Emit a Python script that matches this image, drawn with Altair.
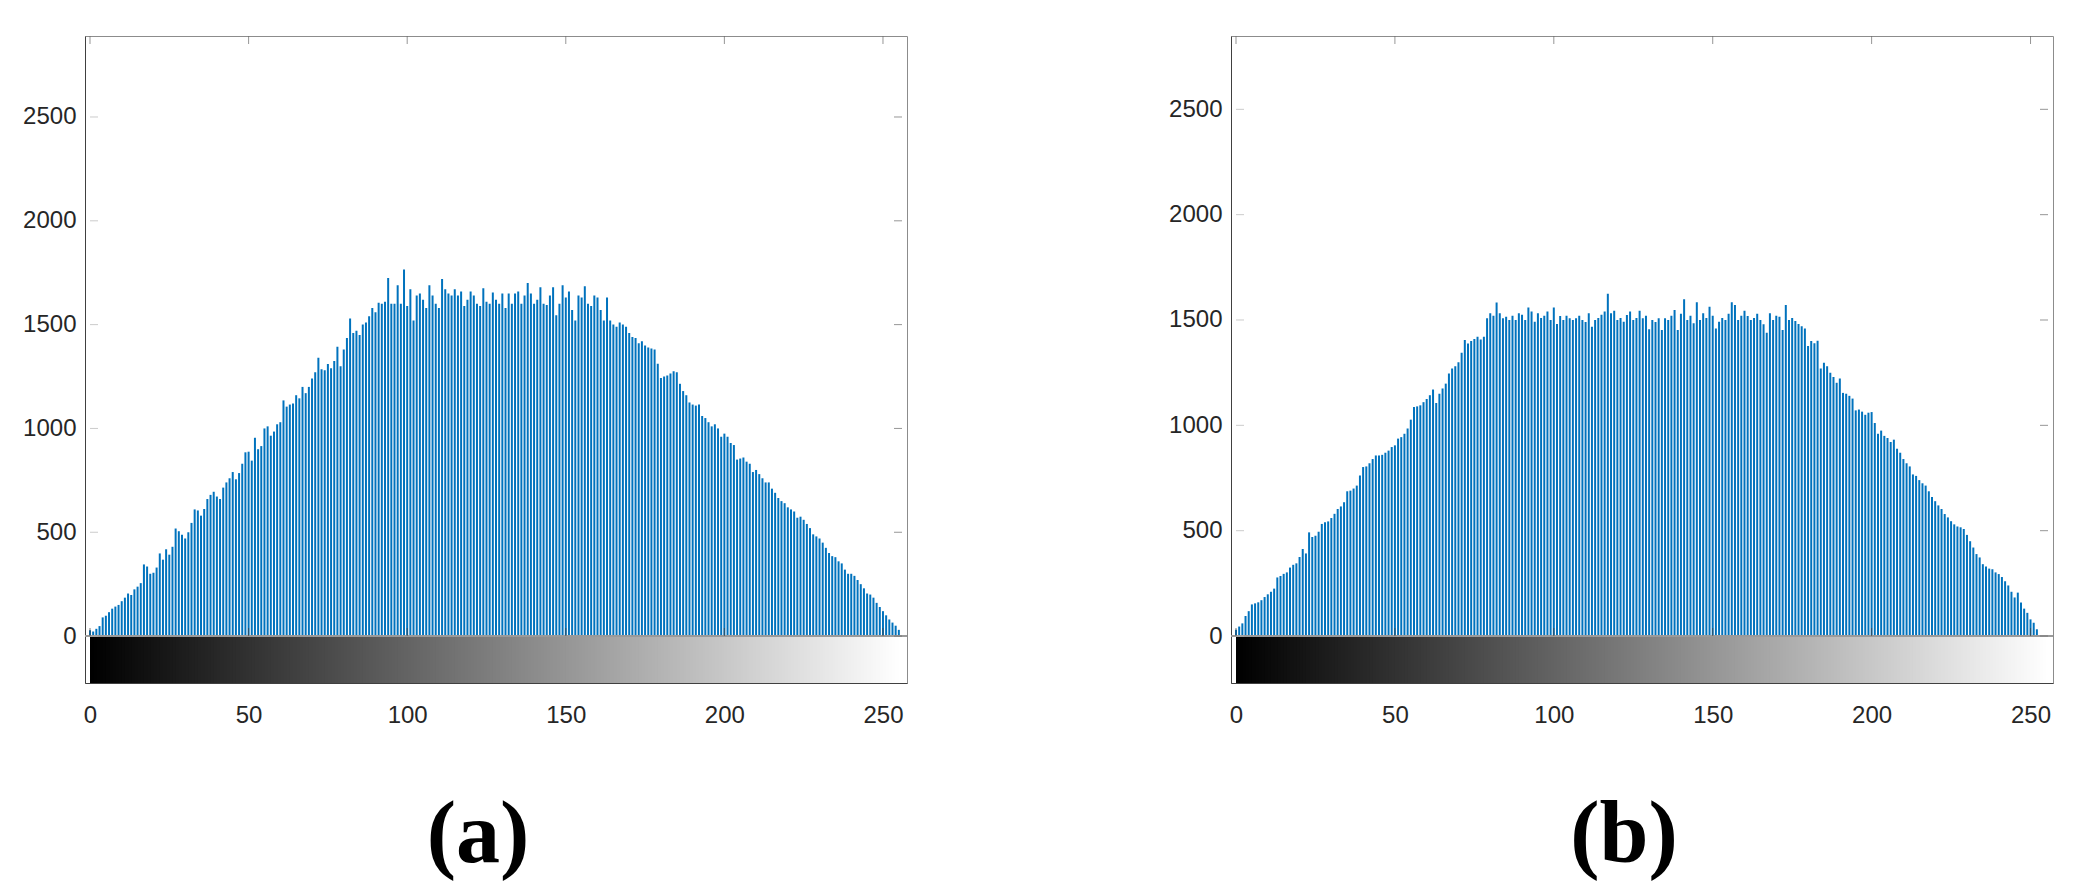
import altair as alt
import pandas as pd

# ---------------- data ----------------
LEVELS = list(range(256))

COUNTS_A = [
    28, 22, 35, 48, 90, 98, 115, 132, 142, 150, 168, 185, 205, 198, 225, 238,
    255, 345, 335, 300, 305, 330, 398, 368, 418, 392, 430, 518, 505, 488, 470, 500,
    545, 610, 605, 580, 612, 660, 680, 695, 672, 660, 715, 740, 760, 790, 755, 785,
    830, 885, 888, 845, 955, 900, 915, 1000, 1010, 965, 985, 1020, 1030, 1135, 1105, 1115,
    1120, 1160, 1145, 1200, 1170, 1200, 1240, 1270, 1340, 1285, 1280, 1310, 1290, 1325, 1394, 1300,
    1380, 1435, 1530, 1460, 1470, 1450, 1500, 1510, 1540, 1580, 1560, 1605, 1600, 1610, 1725, 1600,
    1600, 1690, 1600, 1765, 1590, 1670, 1520, 1640, 1650, 1620, 1580, 1690, 1640, 1600, 1580, 1720,
    1670, 1650, 1640, 1670, 1640, 1660, 1590, 1620, 1660, 1640, 1600, 1590, 1675, 1610, 1600, 1655,
    1620, 1600, 1650, 1580, 1650, 1600, 1650, 1660, 1600, 1640, 1700, 1650, 1600, 1620, 1680, 1600,
    1595, 1640, 1680, 1545, 1600, 1690, 1630, 1660, 1570, 1520, 1640, 1630, 1685, 1600, 1590, 1640,
    1630, 1570, 1520, 1630, 1520, 1500, 1490, 1510, 1500, 1490, 1460, 1440, 1435, 1410, 1420, 1400,
    1390, 1385, 1380, 1312, 1243, 1250, 1255, 1265, 1275, 1270, 1215, 1180, 1160, 1125, 1115, 1110,
    1115, 1060, 1050, 1030, 1010, 1020, 1000, 960, 975, 960, 930, 920, 850, 855, 860, 840,
    830, 790, 800, 780, 760, 740, 740, 710, 690, 665, 650, 640, 620, 610, 600, 570,
    575, 560, 540, 520, 490, 480, 470, 450, 425, 400, 385, 380, 360, 350, 320, 300,
    300, 290, 270, 250, 230, 205, 200, 185, 160, 140, 120, 100, 80, 65, 50, 30,
]

COUNTS_B = [
    30, 45, 60, 95, 118, 150, 155, 160, 170, 185, 198, 210, 225, 278, 285, 295,
    302, 325, 338, 345, 375, 413, 392, 492, 470, 476, 495, 532, 540, 544, 560, 580,
    603, 615, 635, 687, 690, 700, 714, 762, 802, 805, 820, 840, 857, 857, 860, 870,
    880, 897, 905, 937, 944, 960, 985, 1027, 1087, 1090, 1095, 1110, 1125, 1143, 1170, 1106,
    1150, 1175, 1198, 1246, 1270, 1280, 1300, 1345, 1405, 1389, 1400, 1410, 1421, 1408, 1420, 1508,
    1532, 1520, 1583, 1532, 1508, 1515, 1500, 1520, 1500, 1532, 1525, 1500, 1559, 1540, 1492, 1532,
    1510, 1520, 1540, 1500, 1559, 1481, 1519, 1500, 1520, 1508, 1500, 1508, 1520, 1500, 1490, 1532,
    1468, 1500, 1510, 1525, 1540, 1624, 1532, 1544, 1500, 1510, 1492, 1524, 1540, 1500, 1510, 1544,
    1508, 1520, 1456, 1500, 1490, 1508, 1452, 1508, 1500, 1520, 1548, 1452, 1530, 1598, 1500, 1520,
    1484, 1584, 1500, 1532, 1510, 1563, 1520, 1460, 1492, 1510, 1500, 1530, 1584, 1571, 1500, 1520,
    1544, 1519, 1500, 1510, 1530, 1500, 1480, 1440, 1532, 1500, 1520, 1516, 1452, 1571, 1500, 1510,
    1495, 1481, 1470, 1460, 1376, 1400, 1390, 1402, 1270, 1297, 1280, 1250, 1230, 1202, 1222, 1154,
    1150, 1140, 1127, 1071, 1075, 1065, 1050, 1060, 1063, 1011, 960, 975, 950, 940, 921, 932,
    889, 870, 840, 820, 805, 767, 760, 740, 725, 714, 687, 660, 640, 620, 603, 579,
    563, 545, 530, 520, 516, 508, 480, 450, 420, 389, 373, 341, 330, 320, 317, 302,
    294, 280, 260, 240, 210, 183, 206, 159, 130, 110, 79, 63, 32, 0, 0, 0,
]

XTICKS = [0, 50, 100, 150, 200, 250]
YTICKS = [0, 500, 1000, 1500, 2000, 2500]
X_DOMAIN_A = [0, 256]
Y_DOMAIN_A = [-226, 2890]
X_DOMAIN_B = [0, 255.5]
Y_DOMAIN_B = [-223, 2848]
PANEL_LABELS = ["(a)", "(b)"]

assert len(COUNTS_A) == 256 and len(COUNTS_B) == 256

BLUE = "#0072BD"
FONT = "Liberation Sans"


def panel(counts, xdom, ydom, label):
    hist = pd.DataFrame({"level": LEVELS, "count": counts, "base": 0})
    cbar = pd.DataFrame({"level": LEVELS,
                         "next": [v + 2 for v in LEVELS],
                         "lo": ydom[0], "hi": 0})
    xt = pd.DataFrame({"v": XTICKS})
    yt = pd.DataFrame({"v": YTICKS})

    xs = alt.Scale(domain=xdom, nice=False, zero=False)
    ys = alt.Scale(domain=ydom, nice=False, zero=False)

    bars = alt.Chart(hist).mark_bar(color=BLUE, size=2, clip=True).encode(
        x=alt.X("level:Q", scale=xs,
                axis=alt.Axis(values=XTICKS, title=None, labelPadding=20,
                              labelFlush=False, format="d")),
        y=alt.Y("count:Q", scale=ys,
                axis=alt.Axis(values=YTICKS, title=None, labelPadding=9,
                              format="d")),
        y2="base:Q",
    )

    colorbar = alt.Chart(cbar).mark_rect(clip=True).encode(
        x=alt.X("level:Q", scale=xs),
        x2="next:Q",
        y=alt.Y("lo:Q", scale=ys),
        y2="hi:Q",
        color=alt.Color("level:Q",
                        scale=alt.Scale(domain=[0, 255],
                                        range=["#000000", "#ffffff"],
                                        interpolate="rgb"),
                        legend=None),
    )

    zero_line = alt.Chart(hist).mark_rule(color="#9a9a9a", strokeWidth=1).encode(
        y=alt.datum(0, scale=ys),
    )

    left_ticks = alt.Chart(yt).mark_tick(
        orient="horizontal", size=8, thickness=1, color="#b5b5b5", xOffset=4
    ).encode(y=alt.Y("v:Q", scale=ys), x=alt.datum(xdom[0], scale=xs))

    right_ticks = alt.Chart(yt).mark_tick(
        orient="horizontal", size=8, thickness=1, color="#6a6a6a", xOffset=-4
    ).encode(y=alt.Y("v:Q", scale=ys), x=alt.datum(xdom[1], scale=xs))

    top_ticks = alt.Chart(xt).mark_tick(
        orient="vertical", size=8, thickness=1, color="#6a6a6a", yOffset=4
    ).encode(x=alt.X("v:Q", scale=xs), y=alt.datum(ydom[1], scale=ys))

    zero_ticks = alt.Chart(xt).mark_tick(
        orient="vertical", size=8, thickness=1, color="#404040", yOffset=-4
    ).encode(x=alt.X("v:Q", scale=xs), y=alt.datum(0, scale=ys))

    return alt.layer(
        bars, colorbar, zero_line, left_ticks, right_ticks, top_ticks, zero_ticks
    ).properties(
        width=822,
        height=647,
        title=alt.TitleParams(
            text=label, orient="bottom", anchor="middle", frame="group",
            font="Liberation Serif", fontSize=88, fontWeight="bold",
            color="#000000", baseline="alphabetic", offset=135, dx=-18,
        ),
    )


chart = alt.hconcat(
    panel(COUNTS_A, X_DOMAIN_A, Y_DOMAIN_A, PANEL_LABELS[0]),
    panel(COUNTS_B, X_DOMAIN_B, Y_DOMAIN_B, PANEL_LABELS[1]),
    spacing=260,
).properties(
    padding={"left": 14, "top": 27, "right": 5, "bottom": 5},
    background="white",
).configure_view(
    stroke="#8c8c8c", strokeWidth=1,
).configure_axis(
    labelFont=FONT, labelFontSize=24, labelColor="#262626",
    ticks=False, tickSize=0, grid=False,
    domainColor="#404040", domainWidth=1,
)

chart.save("out.html", embed_options={"renderer": "svg", "actions": False})
